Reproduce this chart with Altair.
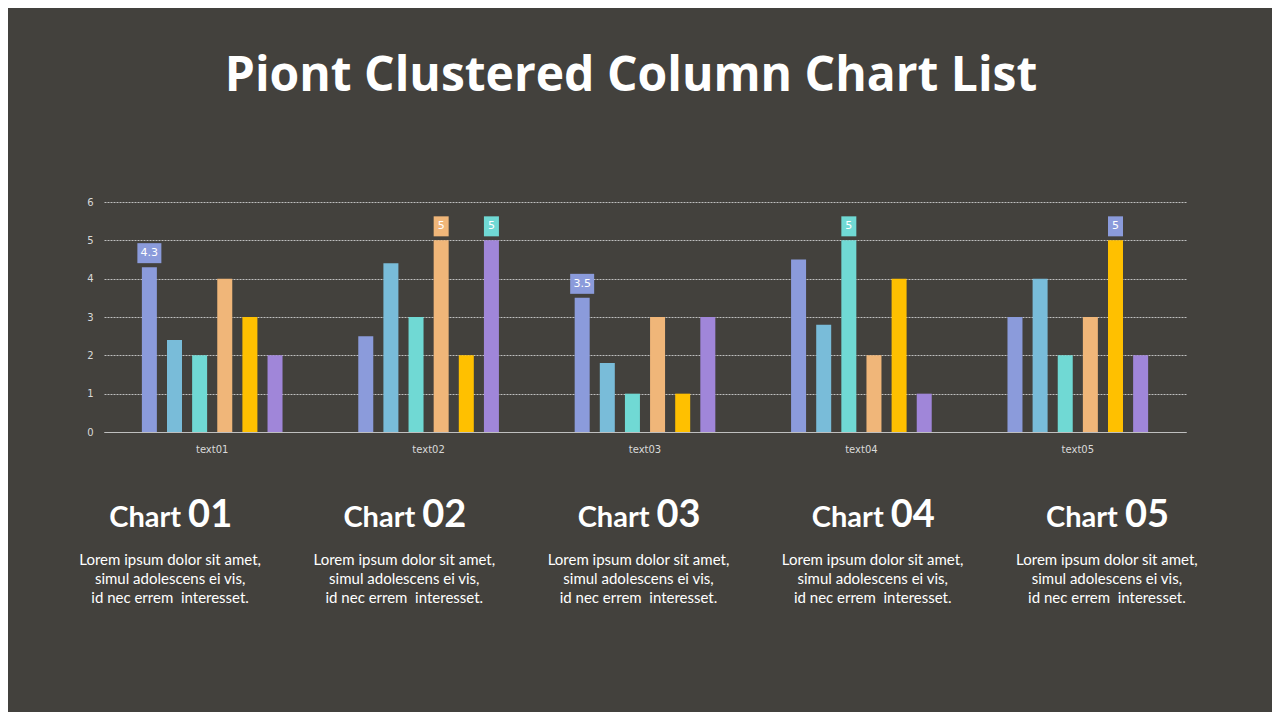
import altair as alt
import pandas as pd

# ---- data ----
categories = ["text01", "text02", "text03", "text04", "text05"]
series_names = ["S1", "S2", "S3", "S4", "S5", "S6"]
s1 = [4.3, 2.5, 3.5, 4.5, 3.0]
s2 = [2.4, 4.4, 1.8, 2.8, 4.0]
s3 = [2.0, 3.0, 1.0, 5.0, 2.0]
s4 = [4.0, 5.0, 3.0, 2.0, 3.0]
s5 = [3.0, 2.0, 1.0, 4.0, 5.0]
s6 = [2.0, 5.0, 3.0, 1.0, 2.0]
series_colors = ["#8b9bdb", "#79bcd9", "#70d9d4", "#f0b679", "#ffc000", "#a086d9"]

label_cat = ["text01", "text02", "text02", "text03", "text04", "text05"]
label_series = ["S1", "S4", "S6", "S1", "S3", "S5"]
label_box_colors = ["#8b9bdb", "#f0b679", "#70d9d4", "#8b9bdb", "#70d9d4", "#8b9bdb"]

y_ticks = [0, 1, 2, 3, 4, 5, 6]

caption_ids = ["01", "02", "03", "04", "05"]
caption_word = "Chart"
caption_body = "Lorem ipsum dolor sit amet,\nsimul adolescens ei vis,\nid nec errem\u00a0 interesset."

title_text = "Piont Clustered Column Chart List"

BG = "#43413d"
GRID = "#bfbfbf"
LABEL = "#d9d9d9"

# ---- tables ----
all_series = [s1, s2, s3, s4, s5, s6]
rows = []
for si, name in enumerate(series_names):
    for ci, cat in enumerate(categories):
        rows.append({"cat": cat, "series": name, "value": all_series[si][ci]})
bars_df = pd.DataFrame(rows)

lab_rows = []
for cat, ser, col in zip(label_cat, label_series, label_box_colors):
    v = all_series[series_names.index(ser)][categories.index(cat)]
    txt = f"{v:g}"
    lab_rows.append({"cat": cat, "series": ser, "value": v, "txt": txt,
                     "box": col, "kind": "wide" if "." in txt else "narrow"})
lab_df = pd.DataFrame(lab_rows)

cap_df = pd.DataFrame({"cid": caption_ids, "word": [caption_word] * 5,
                       "body": [caption_body] * 5})

x_scale = alt.Scale(type="band", domain=categories, paddingInner=0.35, paddingOuter=0.175)
xo_scale = alt.Scale(domain=series_names, paddingInner=0.403, paddingOuter=0)
y_scale = alt.Scale(domain=[0, 6], nice=False)

x_axis = alt.Axis(title=None, labelAngle=0, domain=True, domainColor=GRID,
                  domainWidth=1, ticks=False, labelColor=LABEL,
                  labelFont="DejaVu Sans", labelFontSize=10, labelPadding=12,
                  grid=False)
y_axis = alt.Axis(title=None, values=y_ticks, grid=True, labelOverlap=False,
                  gridColor=GRID, gridDash=[2, 1], gridWidth=1, domain=False,
                  ticks=False, labelColor=LABEL, labelFont="DejaVu Sans",
                  labelFontSize=10, labelPadding=11)


def xe():
    return alt.X("cat:N", scale=x_scale, sort=categories, axis=x_axis)


def xoe():
    return alt.XOffset("series:N", scale=xo_scale, sort=series_names)


def ye():
    return alt.Y("value:Q", scale=y_scale, axis=y_axis)


bars = alt.Chart(bars_df).mark_bar().encode(
    x=xe(), xOffset=xoe(), y=ye(),
    color=alt.Color("series:N", scale=alt.Scale(domain=series_names, range=series_colors),
                    legend=None),
)

boxes = alt.Chart(lab_df).mark_point(filled=True, opacity=1, size=400, yOffset=-14,
                                     strokeWidth=0).encode(
    x=xe(), xOffset=xoe(), y=ye(),
    fill=alt.Fill("box:N", scale=None),
    shape=alt.Shape("kind:N", scale=alt.Scale(domain=["narrow", "wide"],
                                              range=["M-0.75,-1H0.75V1H-0.75Z",
                                                     "M-1.2,-1H1.2V1H-1.2Z"]),
                    legend=None),
)

box_text = alt.Chart(lab_df).mark_text(color="white", font="DejaVu Sans", fontSize=11,
                                       baseline="middle", align="center",
                                       yOffset=-14).encode(
    x=xe(), xOffset=xoe(), y=ye(), text="txt:N",
)

plot = alt.layer(bars, boxes, box_text)

cap_x = alt.X("cid:N", sort=caption_ids,
              scale=alt.Scale(type="point", range=[-51, 1120], padding=0.5), axis=None)

cap_word = alt.Chart(cap_df).mark_text(color="white", font="Lato", fontWeight="bold",
                                       fontSize=29, align="right", baseline="alphabetic",
                                       dx=11).encode(
    x=cap_x, y=alt.value(325), text="word:N")
cap_num = alt.Chart(cap_df).mark_text(color="white", font="Lato", fontWeight="bold",
                                      fontSize=38, align="left", baseline="alphabetic",
                                      dx=18).encode(
    x=cap_x, y=alt.value(325), text="cid:N")
cap_body = alt.Chart(cap_df).mark_text(color="white", font="Lato", fontSize=15,
                                       align="center", baseline="top", lineBreak="\n",
                                       lineHeight=19).encode(
    x=cap_x, y=alt.value(351), text="body:N")

captions = alt.layer(cap_word, cap_num, cap_body)

chart = alt.layer(plot, captions).resolve_scale(x="independent").properties(
    width=1082,
    height=230,
    autosize=alt.AutoSizeParams(type="none"),
    padding={"left": 96, "top": 194, "right": 86, "bottom": 280},
    title=alt.TitleParams(title_text, fontSize=48, font="Open Sans", fontWeight="bold",
                          color="white", anchor="middle", dx=-14, offset=58,
                          baseline="alphabetic"),
).configure(background=BG).configure_view(stroke=None)

chart.save("out.html", embed_options={"renderer": "svg", "actions": False})
